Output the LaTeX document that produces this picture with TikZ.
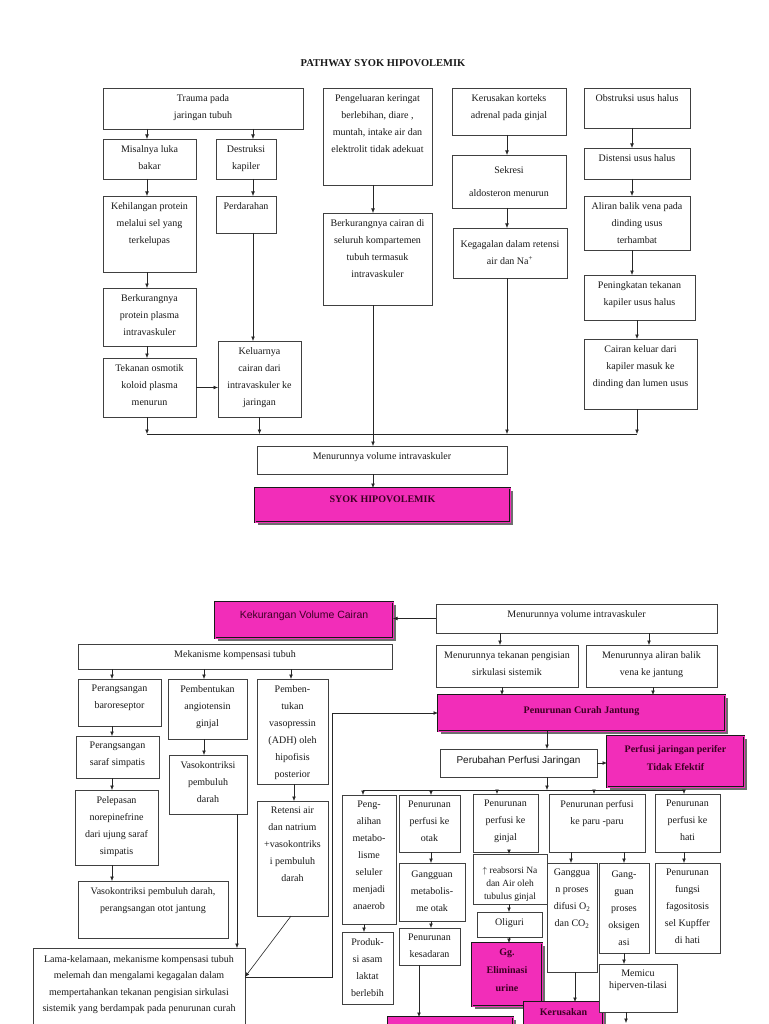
\documentclass[tikz,border=0pt]{standalone}
\usepackage{fontspec}
\setmainfont{Liberation Serif}
\newfontfamily\sansf{Liberation Sans}
\usetikzlibrary{arrows.meta,calc}
\definecolor{pinkc}{RGB}{242,45,185}
\definecolor{ink}{RGB}{25,25,25}
\definecolor{pinkink}{RGB}{60,0,35}
\definecolor{shadowc}{RGB}{110,110,110}
\newcommand\bx[7][]{%
  \node[box,minimum width={(#5-#3)*1pt},minimum height={(#6-#4)*1pt}] (#2) at (#3,#4) {};%
  \node[txt,#1] (#2t) at (#2.north) {#7};}
\newcommand\pbx[7][]{%
  \fill[shadowc] (#3+2.5,#4+2.5) rectangle (#5+2.5,#6+2.5);%
  \node[pbox,minimum width={(#5-#3)*1pt},minimum height={(#6-#4)*1pt}] (#2) at (#3,#4) {};%
  \node[ptxt,#1] (#2t) at (#2.north) {#7};}
\begin{document}
\begin{tikzpicture}[x=1pt,y=-1pt,
  box/.style={draw=black!75, line width=0.7pt, fill=white, inner sep=0pt, outer sep=0pt, anchor=north west},
  pbox/.style={draw=black!90, line width=0.9pt, double=pinkc, double distance=0.9pt, fill=pinkc, inner sep=0pt, outer sep=0pt, anchor=north west},
  txt/.style={anchor=north, inner sep=0pt, align=center, text=ink, yshift=-6pt, font=\fontsize{10}{17}\selectfont},
  ptxt/.style={anchor=north, inner sep=0pt, align=center, text=pinkink, yshift=-6pt, font=\bfseries\fontsize{10}{18}\selectfont},
  arr/.style={-{Latex[length=4.5pt,width=3.8pt]}, draw=black!85, line width=0.6pt},
  ln/.style={draw=black!85, line width=0.6pt}]
\useasboundingbox (0,0) rectangle (768,1024);
\clip (0,0) rectangle (768,1024);
\fill[white] (0,0) rectangle (768,1024);

% ---------- top part ----------
\node[font=\bfseries\fontsize{10.5}{12}\selectfont, text=ink] (title) at (383,63) {PATHWAY SYOK HIPOVOLEMIK};

\bx{trauma}{103}{88}{303}{129}{Trauma pada\\jaringan tubuh}
\bx{misal}{103}{139}{196}{179}{Misalnya luka\\bakar}
\bx{destr}{216}{139}{276}{179}{Destruksi\\kapiler}
\bx{kehil}{103}{196}{196}{272}{Kehilangan protein\\melalui sel yang\\terkelupas}
\bx{perd}{216}{196}{276}{233}{Perdarahan}
\bx{berkp}{103}{288}{196}{346}{Berkurangnya\\protein plasma\\intravaskuler}
\bx{tekan}{103}{358}{196}{417}{Tekanan osmotik\\koloid plasma\\menurun}
\bx{kelu}{218}{341}{301}{417}{Keluarnya\\cairan dari\\intravaskuler ke\\jaringan}
\bx{peng}{323}{88}{432}{185}{Pengeluaran keringat\\berlebihan, diare ,\\muntah, intake air dan\\elektrolit tidak adekuat}
\bx{berkc}{323}{213}{432}{305}{Berkurangnya cairan di\\seluruh kompartemen\\tubuh termasuk\\intravaskuler}
\bx{kerus}{452}{88}{566}{135}{Kerusakan korteks\\adrenal pada ginjal}
\bx[yshift=-5pt]{sekr}{452}{155}{566}{208}{Sekresi\\[6pt]aldosteron menurun}
\bx[yshift=-6pt]{kegag}{453}{228}{567}{278}{Kegagalan dalam retensi\\air dan Na\textsuperscript{+}}
\bx{obst}{584}{88}{690}{128}{Obstruksi usus halus}
\bx{dist}{584}{148}{690}{179}{Distensi usus halus}
\bx{alir}{584}{196}{690}{250}{Aliran balik vena pada\\dinding usus\\terhambat}
\bx{ping}{584}{275}{695}{320}{Peningkatan tekanan\\kapiler usus halus}
\bx{cair}{584}{339}{697}{409}{Cairan keluar dari\\kapiler masuk ke\\dinding dan lumen usus}
\bx{menu1}{257}{446}{507}{474}{Menurunnya volume intravaskuler}
\pbx[yshift=-2pt]{syok}{255}{488}{510}{522}{SYOK HIPOVOLEMIK}

% column coordinates (top)
\coordinate (cT1) at (147,0);
\coordinate (cT2) at (253,0);
\coordinate (cT3) at (373,0);
\coordinate (cT4) at (507,0);
\coordinate (cT5) at (632,0);
\coordinate (cT6) at (637,0);
\coordinate (busL) at (147,434);
\coordinate (busR) at (637,434);

\draw[arr] (cT1 |- trauma.south) -- (cT1 |- misal.north);
\draw[arr] (cT2 |- trauma.south) -- (cT2 |- destr.north);
\draw[arr] (cT1 |- misal.south) -- (cT1 |- kehil.north);
\draw[arr] (cT2 |- destr.south) -- (cT2 |- perd.north);
\draw[arr] (cT1 |- kehil.south) -- (cT1 |- berkp.north);
\draw[arr] (cT1 |- berkp.south) -- (cT1 |- tekan.north);
\draw[arr] (cT2 |- perd.south) -- (cT2 |- kelu.north);
\draw[arr] (tekan.east) -- (tekan.east -| kelu.west);
\draw[ln] (busL) -- (busR);
\draw[arr] (cT1 |- tekan.south) -- (busL);
\draw[arr] (kelu.south) -- (kelu.south |- busL);
\draw[arr] (cT3 |- peng.south) -- (cT3 |- berkc.north);
\draw[arr] (cT3 |- berkc.south) -- (cT3 |- menu1.north);
\draw[arr] (cT4 |- kerus.south) -- (cT4 |- sekr.north);
\draw[arr] (cT4 |- sekr.south) -- (cT4 |- kegag.north);
\draw[arr] (cT4 |- kegag.south) -- (cT4 |- busL);
\draw[arr] (cT5 |- obst.south) -- (cT5 |- dist.north);
\draw[arr] (cT5 |- dist.south) -- (cT5 |- alir.north);
\draw[arr] (cT5 |- alir.south) -- (cT5 |- ping.north);
\draw[arr] (cT6 |- ping.south) -- (cT6 |- cair.north);
\draw[arr] (cT6 |- cair.south) -- (busR);
\draw[arr] (cT3 |- menu1.south) -- (cT3 |- syok.north);

% ---------- bottom part ----------
\pbx[yshift=-3pt, font=\sansf\fontsize{10.5}{12}\selectfont]{kvc}{215}{602}{393}{638}{Kekurangan Volume Cairan}
\bx{menu2}{436}{604}{717}{633}{Menurunnya volume intravaskuler}
\bx{meka}{78}{644}{392}{669}{Mekanisme kompensasi tubuh}
\bx{baro}{78}{679}{161}{726}{Perangsangan\\baroreseptor}
\bx{angio}{168}{679}{247}{739}{Pembentukan\\angiotensin\\ginjal}
\bx{vaso}{257}{679}{328}{784}{Pemben-\\tukan\\vasopressin\\(ADH) oleh\\hipofisis\\posterior}
\bx{saraf}{76}{736}{159}{778}{Perangsangan\\saraf simpatis}
\bx{norep}{75}{790}{158}{865}{Pelepasan\\norepinefrine\\dari ujung saraf\\simpatis}
\bx{vk1}{78}{881}{228}{938}{Vasokontriksi pembuluh darah,\\perangsangan otot jantung}
\bx{vk2}{169}{755}{247}{814}{Vasokontriksi\\pembuluh\\darah}
\bx{ret}{257}{801}{328}{916}{Retensi air\\dan natrium\\+vasokontriks\\i pembuluh\\darah}
\bx[font=\fontsize{10}{16.5}\selectfont, yshift=-1pt]{lama}{33}{948}{245}{1044}{Lama-kelamaan, mekanisme kompensasi tubuh\\melemah dan mengalami kegagalan dalam\\mempertahankan tekanan pengisian sirkulasi\\sistemik yang berdampak pada penurunan curah}
\bx{mtp}{436}{645}{578}{687}{Menurunnya tekanan pengisian\\sirkulasi sistemik}
\bx{mab}{586}{645}{717}{687}{Menurunnya aliran balik\\vena ke jantung}
\pbx[yshift=-5pt]{pcj}{438}{695}{725}{731}{Penurunan Curah Jantung}
\bx[font=\sansf\fontsize{10}{12}\selectfont, yshift=-1pt]{ppj}{440}{749}{597}{777}{Perubahan Perfusi Jaringan}
\pbx[yshift=-3pt]{pjp}{607}{736}{744}{787}{Perfusi jaringan perifer\\Tidak Efektif}
\bx{alih}{342}{795}{396}{924}{Peng-\\alihan\\metabo-\\lisme\\seluler\\menjadi\\anaerob}
\bx{prod}{342}{932}{393}{1004}{Produk-\\si asam\\laktat\\berlebih}
\bx{otak}{399}{795}{460}{852}{Penurunan\\perfusi ke\\otak}
\bx[yshift=-2pt]{gmo}{399}{863}{465}{921}{Gangguan\\metabolis-\\me otak}
\bx{kesad}{399}{928}{460}{965}{Penurunan\\kesadaran}
\pbx{pkes}{388}{1017}{513}{1060}{}
\bx{ginj}{473}{794}{538}{852}{Penurunan\\perfusi ke\\ginjal}
\bx[yshift=-7pt, font=\fontsize{9.5}{13}\selectfont]{reab}{473}{854}{547}{904}{$\uparrow$ reabsorsi Na\\dan Air oleh\\tubulus ginjal}
\bx{olig}{477}{912}{542}{937}{Oliguri}
\pbx{gge}{472}{943}{542}{1006}{Gg.\\Eliminasi\\urine}
\bx{paru}{549}{794}{645}{852}{Penurunan perfusi\\ke paru -paru}
\bx{difu}{547}{863}{597}{972}{Ganggua\\n proses\\difusi O\textsubscript{2}\\dan CO\textsubscript{2}}
\bx[yshift=-2pt]{oksi}{599}{863}{649}{953}{Gang-\\guan\\proses\\oksigen\\asi}
\pbx{keru}{524}{1002}{603}{1050}{Kerusakan}
\bx[font=\fontsize{10}{11.5}\selectfont]{memi}{599}{964}{677}{1012}{Memicu\\hiperven-tilasi}
\bx{hati}{655}{794}{720}{852}{Penurunan\\perfusi ke\\hati}
\bx{fago}{655}{863}{720}{953}{Penurunan\\fungsi\\fagositosis\\sel Kupffer\\di hati}

% column coordinates (bottom)
\coordinate (cB1) at (112,0);
\coordinate (cB2) at (204,0);
\coordinate (cB3) at (291,0);
\coordinate (cB4) at (294,0);
\coordinate (cB5) at (237,0);
\coordinate (cM1) at (500,0);
\coordinate (cM2) at (649,0);
\coordinate (cM3) at (502,0);
\coordinate (cM4) at (653,0);
\coordinate (cP) at (547,0);
\coordinate (cD1) at (363,0);
\coordinate (cD2) at (431,0);
\coordinate (cD3) at (497,0);
\coordinate (cD4) at (594,0);
\coordinate (cD5) at (684,0);
\coordinate (cG) at (509,0);
\coordinate (cK) at (419,0);
\coordinate (cF1) at (571,0);
\coordinate (cF2) at (575,0);
\coordinate (cO) at (624,0);
\coordinate (b2L) at (363,790);
\coordinate (b2R) at (684,790);
\coordinate (lamaR) at ([yshift=-29pt]lama.north east);
\coordinate (memiEnd) at (626,1023);

\draw[arr] (menu2.west) -- (menu2.west -| kvc.east);
\draw[arr] (cB1 |- meka.south) -- (cB1 |- baro.north);
\draw[arr] (cB2 |- meka.south) -- (cB2 |- angio.north);
\draw[arr] (cB3 |- meka.south) -- (cB3 |- vaso.north);
\draw[arr] (cB1 |- baro.south) -- (cB1 |- saraf.north);
\draw[arr] (cB1 |- saraf.south) -- (cB1 |- norep.north);
\draw[arr] (cB1 |- norep.south) -- (cB1 |- vk1.north);
\draw[arr] (cB2 |- angio.south) -- (cB2 |- vk2.north);
\draw[arr] (cB4 |- vaso.south) -- (cB4 |- ret.north);
\draw[arr] (cB5 |- vk2.south) -- (cB5 |- lama.north);
\draw[arr] ([xshift=-1.5pt]ret.south) -- (lamaR);
\draw[arr] (lamaR) -- ++(87,0) |- (pcj.west);

\draw[arr] (cM1 |- menu2.south) -- (cM1 |- mtp.north);
\draw[arr] (cM2 |- menu2.south) -- (cM2 |- mab.north);
\draw[arr] (cM3 |- mtp.south) -- (cM3 |- pcj.north);
\draw[arr] (cM4 |- mab.south) -- (cM4 |- pcj.north);
\draw[arr] (cP |- pcj.south) -- (cP |- ppj.north);
\draw[arr] (ppj.east) -- (ppj.east -| pjp.west);
\draw[ln] (b2L) -- (b2R);
\draw[arr] (cP |- ppj.south) -- (cP |- b2L);
\draw[arr] (b2L) -- (cD1 |- alih.north);
\draw[arr] (cD2 |- b2L) -- (cD2 |- otak.north);
\draw[arr] (cD3 |- b2L) -- (cD3 |- ginj.north);
\draw[arr] (cD4 |- b2L) -- (cD4 |- paru.north);
\draw[arr] (b2R) -- (cD5 |- hati.north);

\draw[arr] ([xshift=1pt]cD1 |- alih.south) -- ([xshift=1pt]cD1 |- prod.north);
\draw[arr] (cD2 |- otak.south) -- (cD2 |- gmo.north);
\draw[arr] (cD2 |- gmo.south) -- (cD2 |- kesad.north);
\draw[arr] (cK |- kesad.south) -- (cK |- pkes.north);
\draw[arr] (cG |- ginj.south) -- (cG |- reab.north);
\draw[arr] (cG |- reab.south) -- (cG |- olig.north);
\draw[arr] (cG |- olig.south) -- (cG |- gge.north);
\draw[arr] (cF1 |- paru.south) -- (cF1 |- difu.north);
\draw[arr] (cO |- paru.south) -- (cO |- oksi.north);
\draw[arr] (cF2 |- difu.south) -- (cF2 |- keru.north);
\draw[arr] (cO |- oksi.south) -- (cO |- memi.north);
\draw[arr] (memiEnd |- memi.south) -- (memiEnd);
\draw[arr] (cD5 |- hati.south) -- (cD5 |- fago.north);
\end{tikzpicture}
\end{document}
